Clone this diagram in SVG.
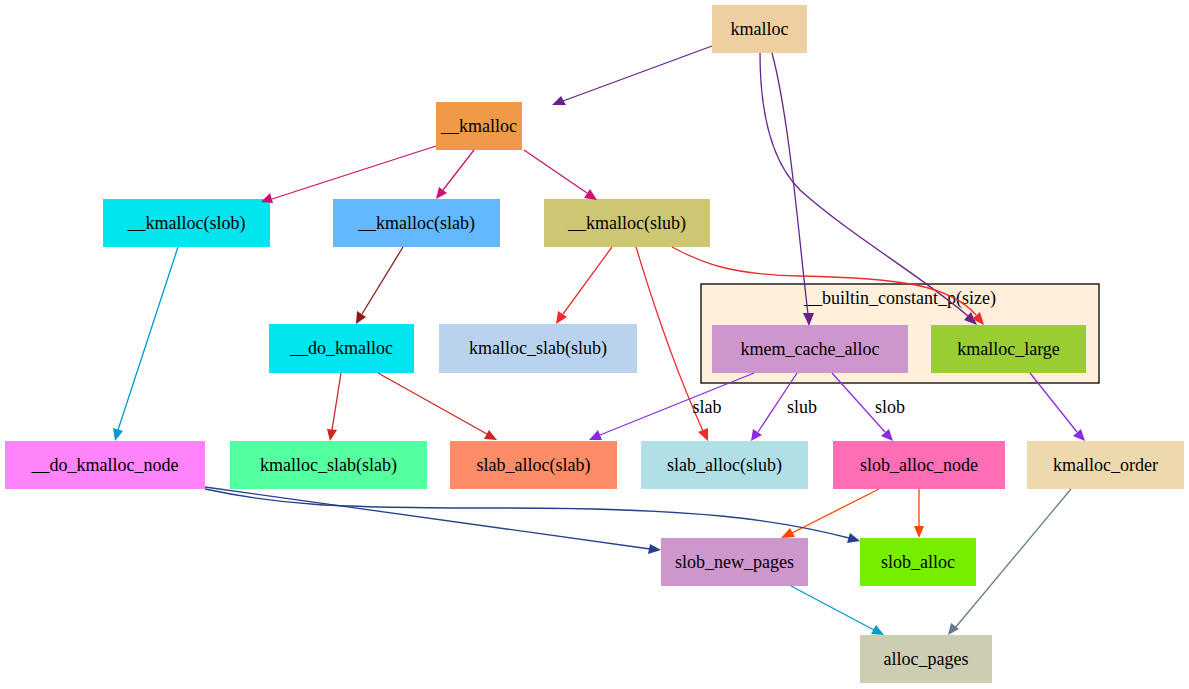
<svg xmlns="http://www.w3.org/2000/svg" width="1189" height="689" viewBox="0 0 1189 689">
<style>
text{font-family:"Liberation Serif",serif;font-size:18px;text-anchor:middle;dominant-baseline:central;fill:#000}
.e{fill:none;stroke-width:1.3}
</style>
<rect width="1189" height="689" fill="#fff"/>
<g id="cluster"><rect x="701" y="284" width="398" height="99" fill="#FFEFDB" stroke="#000" stroke-width="1.3"/><text x="900" y="298">__builtin_constant_p(size)</text></g>
<g id="n_kmalloc"><rect x="712" y="5" width="95" height="48" fill="#EECFA1"/><text x="759.5" y="29">kmalloc</text></g>
<g id="n___kmalloc"><rect x="436" y="102" width="86" height="48" fill="#EE9A49"/><text x="479" y="126">__kmalloc</text></g>
<g id="n_slob"><rect x="103" y="199" width="167" height="48" fill="#00E5EE"/><text x="186.5" y="223">__kmalloc(slob)</text></g>
<g id="n_slab"><rect x="333" y="199" width="167" height="48" fill="#63B8FF"/><text x="416.5" y="223">__kmalloc(slab)</text></g>
<g id="n_slub"><rect x="544" y="199" width="166" height="48" fill="#CDC673"/><text x="627" y="223">__kmalloc(slub)</text></g>
<g id="n_kca"><rect x="712" y="325" width="196" height="48" fill="#CD96CD"/><text x="810" y="349">kmem_cache_alloc</text></g>
<g id="n_kml"><rect x="931" y="325" width="155" height="48" fill="#9ACD32"/><text x="1008.5" y="349">kmalloc_large</text></g>
<g id="n_dok"><rect x="269" y="324" width="145" height="49" fill="#00E5EE"/><text x="341.5" y="348">__do_kmalloc</text></g>
<g id="n_kss"><rect x="439" y="324" width="198" height="49" fill="#B9D3EE"/><text x="538" y="348">kmalloc_slab(slub)</text></g>
<g id="n_dkn"><rect x="5" y="441" width="200" height="48" fill="#FF83FA"/><text x="105" y="465">__do_kmalloc_node</text></g>
<g id="n_ksa"><rect x="230" y="441" width="197" height="48" fill="#54FF9F"/><text x="328.5" y="465">kmalloc_slab(slab)</text></g>
<g id="n_sas"><rect x="450" y="441" width="167" height="48" fill="#FF8C69"/><text x="533.5" y="465">slab_alloc(slab)</text></g>
<g id="n_sau"><rect x="641" y="441" width="167" height="48" fill="#B0E0E6"/><text x="724.5" y="465">slab_alloc(slub)</text></g>
<g id="n_san"><rect x="833" y="441" width="172" height="48" fill="#FF6EB4"/><text x="919" y="465">slob_alloc_node</text></g>
<g id="n_ko"><rect x="1027" y="441" width="157" height="48" fill="#EED8AE"/><text x="1105.5" y="465">kmalloc_order</text></g>
<g id="n_snp"><rect x="661" y="538" width="147" height="48" fill="#CD96CD"/><text x="734.5" y="562">slob_new_pages</text></g>
<g id="n_sa"><rect x="860" y="538" width="116" height="48" fill="#76EE00"/><text x="918" y="562">slob_alloc</text></g>
<g id="n_ap"><rect x="860" y="635" width="132" height="48" fill="#CDCDB4"/><text x="926" y="659">alloc_pages</text></g>
<g id="edges">
<path class="e" stroke="#68228B" d="M712,46 L563,101"/><polygon fill="#68228B" points="552,105 561,96 566,105"/>
<path class="e" stroke="#68228B" d="M772,53 C790,120 800,250 808,314"/><polygon fill="#68228B" points="809,326 803,313 814,313"/>
<path class="e" stroke="#68228B" d="M760,53 C760,110 770,160 800,190 C850,235 920,275 968,316"/><polygon fill="#68228B" points="977,325 964,320 971,312"/>
<path class="e" stroke="#CD1076" d="M436,146 L272,199"/><polygon fill="#CD1076" points="261,202 270,193 273,203"/>
<path class="e" stroke="#CD1076" d="M474,150 L443,190"/><polygon fill="#CD1076" points="436,199 439,187 447,193"/>
<path class="e" stroke="#CD1076" d="M524,150 L587,193"/><polygon fill="#CD1076" points="597,200 584,198 590,189"/>
<path class="e" stroke="#EE2C2C" d="M612,247 L563,314"/><polygon fill="#EE2C2C" points="556,324 558,311 567,317"/>
<path class="e" stroke="#EE2C2C" d="M636,247 C655,310 680,380 703,431"/><polygon fill="#EE2C2C" points="708,441 698,432 708,428"/>
<path class="e" stroke="#EE2C2C" d="M672,247 C700,262 730,275 800,276 C900,278 950,285 976,315"/><polygon fill="#EE2C2C" points="984,325 972,319 980,312"/>
<path class="e" stroke="#8B1A1A" d="M403,247 L362,314"/><polygon fill="#8B1A1A" points="356,324 357,311 366,317"/>
<path class="e" stroke="#009ACD" d="M178,247 L118,430"/><polygon fill="#009ACD" points="115,441 113,428 123,431"/>
<path class="e" stroke="#CD2626" d="M341,373 L332,430"/><polygon fill="#CD2626" points="330,441 327,429 337,430"/>
<path class="e" stroke="#CD2626" d="M378,373 L487,434"/><polygon fill="#CD2626" points="497,440 484,439 489,430"/>
<path class="e" stroke="#8A2BE2" d="M754,373 L600,435"/><polygon fill="#8A2BE2" points="589,440 598,430 602,440"/>
<path class="e" stroke="#8A2BE2" d="M797,373 L758,432"/><polygon fill="#8A2BE2" points="751,441 753,429 762,435"/>
<path class="e" stroke="#8A2BE2" d="M832,373 L885,432"/><polygon fill="#8A2BE2" points="893,441 881,436 889,429"/>
<text x="707" y="407">slab</text><text x="802" y="407">slub</text><text x="890" y="407">slob</text>
<path class="e" stroke="#8A2BE2" d="M1030,373 L1077,432"/><polygon fill="#8A2BE2" points="1085,441 1073,436 1081,429"/>
<path class="e" stroke="#FF4500" d="M879,489 L792,533"/><polygon fill="#FF4500" points="781,538 790,528 795,537"/>
<path class="e" stroke="#FF4500" d="M919,489 L919,527"/><polygon fill="#FF4500" points="919,538 914,526 924,526"/>
<path class="e" stroke="#27408B" d="M205,487 L650,549"/><polygon fill="#27408B" points="661,550 648,554 650,544"/>
<path class="e" stroke="#27408B" d="M205,489 C280,505 330,508 500,508 C700,508 780,520 849,538"/><polygon fill="#27408B" points="860,541 847,543 850,533"/>
<path class="e" stroke="#009ACD" d="M791,586 L874,630"/><polygon fill="#009ACD" points="884,635 871,634 876,625"/>
<path class="e" stroke="#607B8B" d="M1071,489 L955,628"/><polygon fill="#607B8B" points="948,635 951,623 959,629"/>
</g>
</svg>
